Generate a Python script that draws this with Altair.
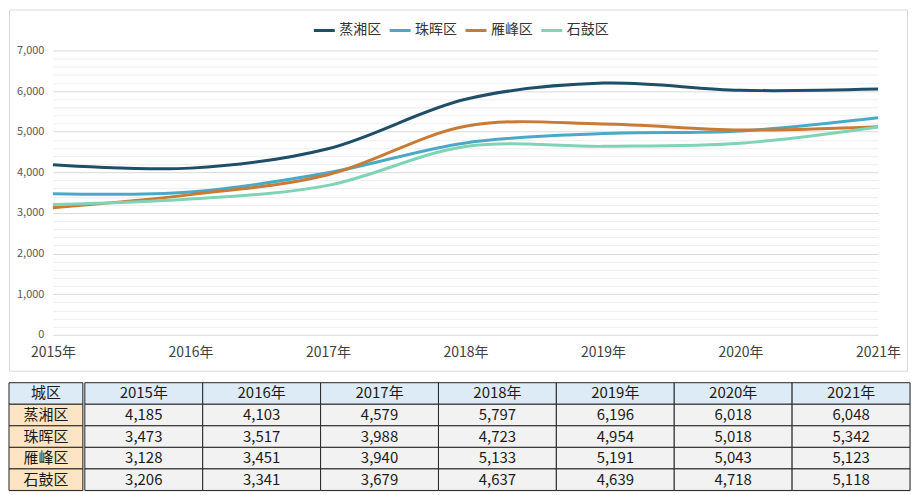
import altair as alt
import pandas as pd

years = ["2015年", "2016年", "2017年", "2018年", "2019年", "2020年", "2021年"]
districts = ["蒸湘区", "珠晖区", "雁峰区", "石鼓区"]
zhengxiang = [4185, 4103, 4579, 5797, 6196, 6018, 6048]
zhuhui = [3473, 3517, 3988, 4723, 4954, 5018, 5342]
yanfeng = [3128, 3451, 3940, 5133, 5191, 5043, 5123]
shigu = [3206, 3341, 3679, 4637, 4639, 4718, 5118]
corner_label = "城区"

series = [zhengxiang, zhuhui, yanfeng, shigu]
colors = ["#1F4E69", "#4BA9C8", "#C97A34", "#7FD4B6"]
FONT = "Noto Sans CJK SC"

line_df = pd.DataFrame(
    [{"year": y, "district": d, "value": v}
     for d, vals in zip(districts, series) for y, v in zip(years, vals)]
)

y_values = list(range(0, 7001, 200))

lines = alt.Chart(line_df).mark_line(interpolate="cardinal", strokeWidth=3).encode(
    x=alt.X("year:N", sort=years, title=None,
            scale=alt.Scale(type="point", padding=0, range=[44, 871]),
            axis=alt.Axis(orient="bottom", offset=-36, domain=False, ticks=False, grid=False,
                          labelAngle=0, labelFontSize=14, labelColor="#404040",
                          labelPadding=11, labelOverlap=False)),
    y=alt.Y("value:Q", title=None,
            scale=alt.Scale(domain=[0, 7000], range=[326, 41], nice=False),
            axis=alt.Axis(orient="left", offset=-44, values=y_values, domain=False, ticks=False,
                          grid=True,
                          gridColor={"condition": {"test": "datum.value % 1000 === 0", "value": "#d9d9d9"},
                                     "value": "#eeeeee"},
                          labelExpr="datum.value % 1000 === 0 ? format(datum.value, ',') : ''",
                          labelFontSize=11, labelColor="#595959", labelPadding=9,
                          labelOverlap=False)),
    color=alt.Color("district:N", sort=districts,
                    scale=alt.Scale(domain=districts, range=colors),
                    legend=alt.Legend(orient="none", legendX=304, legendY=9, direction="horizontal",
                                      title=None, symbolType="stroke", symbolStrokeWidth=3,
                                      symbolSize=440, labelFontSize=14, labelColor="#333333",
                                      columnPadding=2, labelOffset=3)),
).properties(width=900, height=362)

rows = [corner_label] + districts
first_recs = [{"row": r, "col": corner_label, "label": r,
               "role": "header" if r == corner_label else "name"} for r in rows]
rest_recs = []
for i, yr in enumerate(years):
    rest_recs.append({"row": corner_label, "col": yr, "label": yr, "role": "header"})
    for d, vals in zip(districts, series):
        rest_recs.append({"row": d, "col": yr, "label": f"{vals[i]:,}", "role": "cell"})


def table_view(recs, cols, width, other_fill):
    base = alt.Chart(pd.DataFrame(recs)).encode(
        x=alt.X("col:N", sort=cols, scale=alt.Scale(paddingInner=0, paddingOuter=0), axis=None),
        y=alt.Y("row:N", sort=rows, scale=alt.Scale(paddingInner=0, paddingOuter=0), axis=None),
    )
    rect = base.mark_rect(stroke="#262626", strokeWidth=1).encode(
        fill=alt.condition("datum.role === 'header'", alt.value("#DDEBF7"), alt.value(other_fill))
    )
    text = base.mark_text(fontSize=15, color="#1a1a1a").encode(text="label:N")
    return alt.layer(rect, text).properties(width=width, height=108)


first = table_view(first_recs, [corner_label], 74, "#FCE4C4")
rest = table_view(rest_recs, years, 827, "#F2F2F2")

chart = alt.vconcat(
    lines,
    alt.hconcat(first, rest, spacing=0),
    spacing=10,
).properties(padding=0).configure(font=FONT).configure_view(stroke="#d9d9d9")

chart.save("out.html", embed_options={"renderer": "svg", "actions": False})
